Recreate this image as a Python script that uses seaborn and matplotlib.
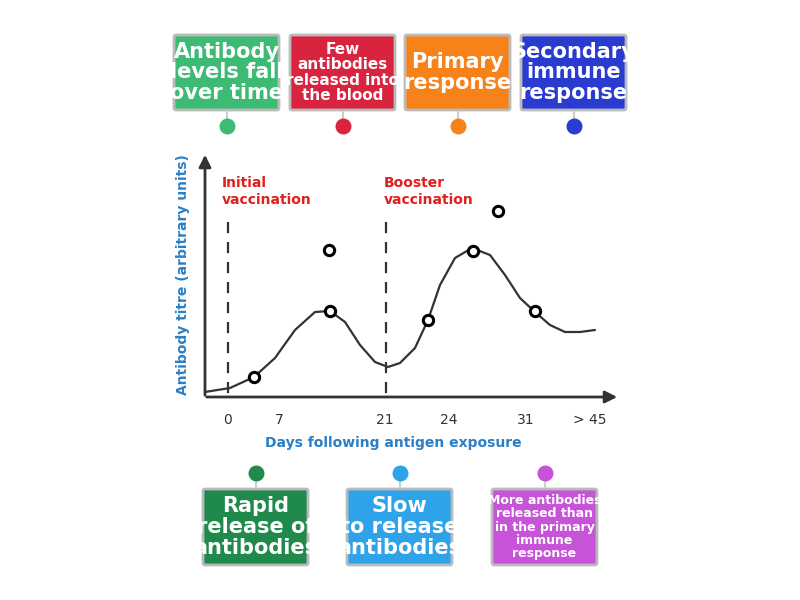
import matplotlib.pyplot as plt
import seaborn as sns
import pandas as pd
from matplotlib.patches import FancyBboxPatch

sns.set_style("white")

# curve (x, y in figure pixels)
curve_x = [205, 230, 254, 275, 295, 315, 330, 345, 360, 375, 388, 400, 415, 428,
           440, 455, 472, 490, 505, 520, 535, 550, 565, 580, 595]
curve_y = [392, 388, 377, 358, 330, 312, 311, 322, 345, 362, 367, 363, 348, 320,
           285, 258, 248, 255, 275, 298, 312, 325, 332, 332, 330]
marker_x = [254, 329, 330, 428, 473, 498, 535]
marker_y = [377, 250, 311, 320, 251, 211, 311]
tick_labels = ["0", "7", "21", "24", "31", "> 45"]
tick_x = [227, 279, 385, 449, 526, 590]

top_labels = ["Antibody\nlevels fall\nover time", "Few\nantibodies\nreleased into\nthe blood",
              "Primary\nresponse", "Secondary\nimmune\nresponse"]
top_colors = ["#3dbb74", "#d9243f", "#f7821a", "#2a3bd0"]
top_x = [172, 288, 403, 519]
top_size = [15, 11, 15, 15]
bottom_labels = ["Rapid\nrelease of\nantibodies", "Slow\nto release\nantibodies",
                 "More antibodies\nreleased than\nin the primary\nimmune\nresponse"]
bottom_colors = ["#1f8a4c", "#2ea3ea", "#c653d8"]
bottom_x = [201, 345, 490]
bottom_size = [15, 15, 9]

fig = plt.figure(figsize=(8, 6), dpi=100)
ax = fig.add_axes([0, 0, 1, 1])
ax.set_xlim(0, 800)
ax.set_ylim(600, 0)
ax.axis("off")

df = pd.DataFrame({"x": curve_x, "y": curve_y})
sns.lineplot(data=df, x="x", y="y", ax=ax, color="#333333", lw=1.6, sort=False)
ax.scatter(marker_x, marker_y, s=55, facecolor="white", edgecolor="black", lw=2.2, zorder=5)

# axes arrows
ax.annotate("", xy=(205, 152), xytext=(205, 398),
            arrowprops=dict(arrowstyle="-|>", color="#333333", lw=2, mutation_scale=18))
ax.annotate("", xy=(620, 397), xytext=(204, 397),
            arrowprops=dict(arrowstyle="-|>", color="#333333", lw=2, mutation_scale=18))
for t, x in zip(tick_labels, tick_x):
    ax.text(x, 420, t, ha="center", va="center", fontsize=10, color="#333333")
for x in [228, 386]:
    ax.plot([x, x], [222, 397], ls=(0, (5, 4)), color="#333333", lw=1.6)
ax.text(222, 176, "Initial\nvaccination", color="#e0201f", fontsize=10, fontweight="bold",
        va="top", linespacing=1.3)
ax.text(384, 176, "Booster\nvaccination", color="#e0201f", fontsize=10, fontweight="bold",
        va="top", linespacing=1.3)
ax.text(183, 275, "Antibody titre (arbitrary units)", color="#2a7fc6", fontsize=10,
        fontweight="bold", rotation=90, ha="center", va="center")
ax.text(393, 443, "Days following antigen exposure", color="#2a7fc6", fontsize=10,
        fontweight="bold", ha="center", va="center")


def box(x, y, w, h, label, color, size, dot_y):
    ax.add_patch(FancyBboxPatch((x + 2, y + 2), w - 4, h - 4,
                                boxstyle="round,pad=0,rounding_size=2",
                                fc=color, ec="#bbbbbb", lw=2))
    ax.text(x + w / 2, y + h / 2, label, color="white", fontsize=size,
            fontweight="bold", ha="center", va="center", linespacing=1.05)
    ax.plot([x + w / 2, x + w / 2], [y + h if dot_y > y else y, dot_y],
            color="#cccccc", lw=1.5, zorder=1)
    ax.scatter([x + w / 2], [dot_y], s=110, color=color, zorder=3)


for lab, c, x, s in zip(top_labels, top_colors, top_x, top_size):
    box(x, 33, 109, 79, lab, c, s, 126)
for lab, c, x, s in zip(bottom_labels, bottom_colors, bottom_x, bottom_size):
    box(x, 487, 109, 80, lab, c, s, 473)

fig.savefig("out.png", dpi=100)
